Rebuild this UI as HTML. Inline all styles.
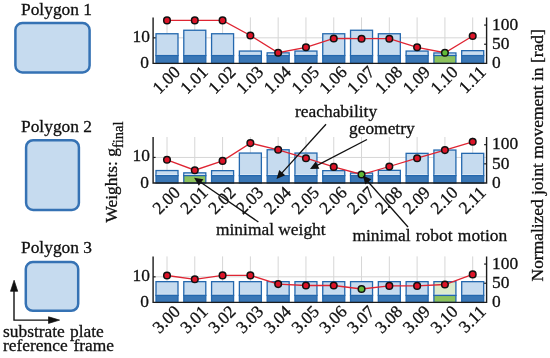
<!DOCTYPE html>
<html><head><meta charset="utf-8"><title>figure</title>
<style>
html,body{margin:0;padding:0;background:#fff;}
body{width:550px;height:358px;overflow:hidden;}
svg{display:block;}
text{font-family:"Liberation Serif", "Times New Roman", serif;font-size:17.4px;fill:#111;stroke:#111;stroke-width:0.3px;}
</style></head>
<body>
<svg width="550" height="358" viewBox="0 0 550 358">
<rect width="550" height="358" fill="#fff"/>
<line x1="167" y1="17.4" x2="167" y2="63.4" stroke="#d6d6d6" stroke-width="1"/>
<line x1="194.79" y1="17.4" x2="194.79" y2="63.4" stroke="#d6d6d6" stroke-width="1"/>
<line x1="222.58" y1="17.4" x2="222.58" y2="63.4" stroke="#d6d6d6" stroke-width="1"/>
<line x1="250.37" y1="17.4" x2="250.37" y2="63.4" stroke="#d6d6d6" stroke-width="1"/>
<line x1="278.16" y1="17.4" x2="278.16" y2="63.4" stroke="#d6d6d6" stroke-width="1"/>
<line x1="305.95" y1="17.4" x2="305.95" y2="63.4" stroke="#d6d6d6" stroke-width="1"/>
<line x1="333.75" y1="17.4" x2="333.75" y2="63.4" stroke="#d6d6d6" stroke-width="1"/>
<line x1="361.54" y1="17.4" x2="361.54" y2="63.4" stroke="#d6d6d6" stroke-width="1"/>
<line x1="389.33" y1="17.4" x2="389.33" y2="63.4" stroke="#d6d6d6" stroke-width="1"/>
<line x1="417.12" y1="17.4" x2="417.12" y2="63.4" stroke="#d6d6d6" stroke-width="1"/>
<line x1="444.91" y1="17.4" x2="444.91" y2="63.4" stroke="#d6d6d6" stroke-width="1"/>
<line x1="472.7" y1="17.4" x2="472.7" y2="63.4" stroke="#d6d6d6" stroke-width="1"/>
<line x1="153.1" y1="37.84" x2="486.6" y2="37.84" stroke="#d6d6d6" stroke-width="1"/>
<rect x="156" y="33.75" width="22" height="21.75" fill="#c6dbef" stroke="#2468ae" stroke-width="1.3"/>
<line x1="156.65" y1="54.4" x2="177.35" y2="54.4" stroke="#eef4fb" stroke-width="0.8"/>
<rect x="156" y="55.5" width="22" height="7.9" fill="#3a77b6" stroke="#2468ae" stroke-width="1.3"/>
<rect x="183.79" y="30.25" width="22" height="25.25" fill="#c6dbef" stroke="#2468ae" stroke-width="1.3"/>
<line x1="184.44" y1="54.4" x2="205.14" y2="54.4" stroke="#eef4fb" stroke-width="0.8"/>
<rect x="183.79" y="55.5" width="22" height="7.9" fill="#3a77b6" stroke="#2468ae" stroke-width="1.3"/>
<rect x="211.58" y="33.75" width="22" height="21.75" fill="#c6dbef" stroke="#2468ae" stroke-width="1.3"/>
<line x1="212.23" y1="54.4" x2="232.93" y2="54.4" stroke="#eef4fb" stroke-width="0.8"/>
<rect x="211.58" y="55.5" width="22" height="7.9" fill="#3a77b6" stroke="#2468ae" stroke-width="1.3"/>
<rect x="239.37" y="51.05" width="22" height="4.45" fill="#c6dbef" stroke="#2468ae" stroke-width="1.3"/>
<line x1="240.02" y1="54.4" x2="260.72" y2="54.4" stroke="#eef4fb" stroke-width="0.8"/>
<rect x="239.37" y="55.5" width="22" height="7.9" fill="#3a77b6" stroke="#2468ae" stroke-width="1.3"/>
<rect x="267.16" y="52.85" width="22" height="2.65" fill="#c6dbef" stroke="#2468ae" stroke-width="1.3"/>
<line x1="267.81" y1="54.4" x2="288.51" y2="54.4" stroke="#eef4fb" stroke-width="0.8"/>
<rect x="267.16" y="55.5" width="22" height="7.9" fill="#3a77b6" stroke="#2468ae" stroke-width="1.3"/>
<rect x="294.95" y="51.05" width="22" height="4.45" fill="#c6dbef" stroke="#2468ae" stroke-width="1.3"/>
<line x1="295.6" y1="54.4" x2="316.3" y2="54.4" stroke="#eef4fb" stroke-width="0.8"/>
<rect x="294.95" y="55.5" width="22" height="7.9" fill="#3a77b6" stroke="#2468ae" stroke-width="1.3"/>
<rect x="322.75" y="33.75" width="22" height="21.75" fill="#c6dbef" stroke="#2468ae" stroke-width="1.3"/>
<line x1="323.4" y1="54.4" x2="344.1" y2="54.4" stroke="#eef4fb" stroke-width="0.8"/>
<rect x="322.75" y="55.5" width="22" height="7.9" fill="#3a77b6" stroke="#2468ae" stroke-width="1.3"/>
<rect x="350.54" y="30.25" width="22" height="25.25" fill="#c6dbef" stroke="#2468ae" stroke-width="1.3"/>
<line x1="351.19" y1="54.4" x2="371.89" y2="54.4" stroke="#eef4fb" stroke-width="0.8"/>
<rect x="350.54" y="55.5" width="22" height="7.9" fill="#3a77b6" stroke="#2468ae" stroke-width="1.3"/>
<rect x="378.33" y="33.75" width="22" height="21.75" fill="#c6dbef" stroke="#2468ae" stroke-width="1.3"/>
<line x1="378.98" y1="54.4" x2="399.68" y2="54.4" stroke="#eef4fb" stroke-width="0.8"/>
<rect x="378.33" y="55.5" width="22" height="7.9" fill="#3a77b6" stroke="#2468ae" stroke-width="1.3"/>
<rect x="406.12" y="51.05" width="22" height="4.45" fill="#c6dbef" stroke="#2468ae" stroke-width="1.3"/>
<line x1="406.77" y1="54.4" x2="427.47" y2="54.4" stroke="#eef4fb" stroke-width="0.8"/>
<rect x="406.12" y="55.5" width="22" height="7.9" fill="#3a77b6" stroke="#2468ae" stroke-width="1.3"/>
<rect x="433.91" y="52.95" width="22" height="2.55" fill="#c6dbef" stroke="#2468ae" stroke-width="1.3"/>
<line x1="434.56" y1="54.4" x2="455.26" y2="54.4" stroke="#eef4fb" stroke-width="0.8"/>
<rect x="433.91" y="55.5" width="22" height="7.9" fill="#8cc25c" stroke="#2468ae" stroke-width="1.3"/>
<rect x="461.7" y="50.65" width="22" height="4.85" fill="#c6dbef" stroke="#2468ae" stroke-width="1.3"/>
<line x1="462.35" y1="54.4" x2="483.05" y2="54.4" stroke="#eef4fb" stroke-width="0.8"/>
<rect x="461.7" y="55.5" width="22" height="7.9" fill="#3a77b6" stroke="#2468ae" stroke-width="1.3"/>
<polyline points="167,20.4 194.79,20.4 222.58,20.4 250.37,35.5 278.16,52.7 305.95,47.3 333.75,38.5 361.54,38.7 389.33,38.7 417.12,47.3 444.91,52.7 472.7,36" fill="none" stroke="#df2533" stroke-width="1.3"/>
<circle cx="167" cy="20.4" r="3.3" fill="#dc1428" stroke="#111" stroke-width="1.5"/>
<circle cx="194.79" cy="20.4" r="3.3" fill="#dc1428" stroke="#111" stroke-width="1.5"/>
<circle cx="222.58" cy="20.4" r="3.3" fill="#dc1428" stroke="#111" stroke-width="1.5"/>
<circle cx="250.37" cy="35.5" r="3.3" fill="#dc1428" stroke="#111" stroke-width="1.5"/>
<circle cx="278.16" cy="52.7" r="3.3" fill="#dc1428" stroke="#111" stroke-width="1.5"/>
<circle cx="305.95" cy="47.3" r="3.3" fill="#dc1428" stroke="#111" stroke-width="1.5"/>
<circle cx="333.75" cy="38.5" r="3.3" fill="#dc1428" stroke="#111" stroke-width="1.5"/>
<circle cx="361.54" cy="38.7" r="3.3" fill="#dc1428" stroke="#111" stroke-width="1.5"/>
<circle cx="389.33" cy="38.7" r="3.3" fill="#dc1428" stroke="#111" stroke-width="1.5"/>
<circle cx="417.12" cy="47.3" r="3.3" fill="#dc1428" stroke="#111" stroke-width="1.5"/>
<circle cx="444.91" cy="52.7" r="3.3" fill="#62bb38" stroke="#111" stroke-width="1.5"/>
<circle cx="472.7" cy="36" r="3.3" fill="#dc1428" stroke="#111" stroke-width="1.5"/>
<path d="M153.1 17.4V63.4H486.6V17.4" fill="none" stroke="#1c1c1c" stroke-width="1.4"/>
<line x1="153.1" y1="37.84" x2="155.6" y2="37.84" stroke="#1c1c1c" stroke-width="1.2"/>
<line x1="484.1" y1="44.23" x2="486.6" y2="44.23" stroke="#1c1c1c" stroke-width="1.2"/>
<line x1="484.1" y1="25.07" x2="486.6" y2="25.07" stroke="#1c1c1c" stroke-width="1.2"/>
<text x="150" y="41.74" text-anchor="end">10</text>
<text x="149" y="68.2" text-anchor="end">0</text>
<text x="492" y="29.87">100</text>
<text x="492" y="49.03">50</text>
<text x="492" y="68.2">0</text>
<text transform="translate(181.1 73.2) rotate(-45)" text-anchor="end">1.00</text>
<text transform="translate(208.89 73.2) rotate(-45)" text-anchor="end">1.01</text>
<text transform="translate(236.68 73.2) rotate(-45)" text-anchor="end">1.02</text>
<text transform="translate(264.47 73.2) rotate(-45)" text-anchor="end">1.03</text>
<text transform="translate(292.26 73.2) rotate(-45)" text-anchor="end">1.04</text>
<text transform="translate(320.05 73.2) rotate(-45)" text-anchor="end">1.05</text>
<text transform="translate(347.85 73.2) rotate(-45)" text-anchor="end">1.06</text>
<text transform="translate(375.64 73.2) rotate(-45)" text-anchor="end">1.07</text>
<text transform="translate(403.43 73.2) rotate(-45)" text-anchor="end">1.08</text>
<text transform="translate(431.22 73.2) rotate(-45)" text-anchor="end">1.09</text>
<text transform="translate(459.01 73.2) rotate(-45)" text-anchor="end">1.10</text>
<text transform="translate(486.8 73.2) rotate(-45)" text-anchor="end">1.11</text>
<line x1="167" y1="137" x2="167" y2="183" stroke="#d6d6d6" stroke-width="1"/>
<line x1="194.79" y1="137" x2="194.79" y2="183" stroke="#d6d6d6" stroke-width="1"/>
<line x1="222.58" y1="137" x2="222.58" y2="183" stroke="#d6d6d6" stroke-width="1"/>
<line x1="250.37" y1="137" x2="250.37" y2="183" stroke="#d6d6d6" stroke-width="1"/>
<line x1="278.16" y1="137" x2="278.16" y2="183" stroke="#d6d6d6" stroke-width="1"/>
<line x1="305.95" y1="137" x2="305.95" y2="183" stroke="#d6d6d6" stroke-width="1"/>
<line x1="333.75" y1="137" x2="333.75" y2="183" stroke="#d6d6d6" stroke-width="1"/>
<line x1="361.54" y1="137" x2="361.54" y2="183" stroke="#d6d6d6" stroke-width="1"/>
<line x1="389.33" y1="137" x2="389.33" y2="183" stroke="#d6d6d6" stroke-width="1"/>
<line x1="417.12" y1="137" x2="417.12" y2="183" stroke="#d6d6d6" stroke-width="1"/>
<line x1="444.91" y1="137" x2="444.91" y2="183" stroke="#d6d6d6" stroke-width="1"/>
<line x1="472.7" y1="137" x2="472.7" y2="183" stroke="#d6d6d6" stroke-width="1"/>
<line x1="153.1" y1="157.44" x2="486.6" y2="157.44" stroke="#d6d6d6" stroke-width="1"/>
<rect x="156" y="170.55" width="22" height="5.05" fill="#c6dbef" stroke="#2468ae" stroke-width="1.3"/>
<line x1="156.65" y1="174.5" x2="177.35" y2="174.5" stroke="#eef4fb" stroke-width="0.8"/>
<rect x="156" y="175.6" width="22" height="7.4" fill="#3a77b6" stroke="#2468ae" stroke-width="1.3"/>
<rect x="183.79" y="172.85" width="22" height="2.75" fill="#c6dbef" stroke="#2468ae" stroke-width="1.3"/>
<line x1="184.44" y1="174.5" x2="205.14" y2="174.5" stroke="#eef4fb" stroke-width="0.8"/>
<rect x="183.79" y="175.6" width="22" height="7.4" fill="#8cc25c" stroke="#2468ae" stroke-width="1.3"/>
<rect x="211.58" y="170.65" width="22" height="4.95" fill="#c6dbef" stroke="#2468ae" stroke-width="1.3"/>
<line x1="212.23" y1="174.5" x2="232.93" y2="174.5" stroke="#eef4fb" stroke-width="0.8"/>
<rect x="211.58" y="175.6" width="22" height="7.4" fill="#3a77b6" stroke="#2468ae" stroke-width="1.3"/>
<rect x="239.37" y="153.05" width="22" height="22.55" fill="#c6dbef" stroke="#2468ae" stroke-width="1.3"/>
<line x1="240.02" y1="174.5" x2="260.72" y2="174.5" stroke="#eef4fb" stroke-width="0.8"/>
<rect x="239.37" y="175.6" width="22" height="7.4" fill="#3a77b6" stroke="#2468ae" stroke-width="1.3"/>
<rect x="267.16" y="149.75" width="22" height="25.85" fill="#c6dbef" stroke="#2468ae" stroke-width="1.3"/>
<line x1="267.81" y1="174.5" x2="288.51" y2="174.5" stroke="#eef4fb" stroke-width="0.8"/>
<rect x="267.16" y="175.6" width="22" height="7.4" fill="#3a77b6" stroke="#2468ae" stroke-width="1.3"/>
<rect x="294.95" y="153.05" width="22" height="22.55" fill="#c6dbef" stroke="#2468ae" stroke-width="1.3"/>
<line x1="295.6" y1="174.5" x2="316.3" y2="174.5" stroke="#eef4fb" stroke-width="0.8"/>
<rect x="294.95" y="175.6" width="22" height="7.4" fill="#3a77b6" stroke="#2468ae" stroke-width="1.3"/>
<rect x="322.75" y="170.65" width="22" height="4.95" fill="#c6dbef" stroke="#2468ae" stroke-width="1.3"/>
<line x1="323.4" y1="174.5" x2="344.1" y2="174.5" stroke="#eef4fb" stroke-width="0.8"/>
<rect x="322.75" y="175.6" width="22" height="7.4" fill="#3a77b6" stroke="#2468ae" stroke-width="1.3"/>
<rect x="350.54" y="173.05" width="22" height="2.55" fill="#c6dbef" stroke="#2468ae" stroke-width="1.3"/>
<line x1="351.19" y1="174.5" x2="371.89" y2="174.5" stroke="#eef4fb" stroke-width="0.8"/>
<rect x="350.54" y="175.6" width="22" height="7.4" fill="#3a77b6" stroke="#2468ae" stroke-width="1.3"/>
<rect x="378.33" y="170.35" width="22" height="5.25" fill="#c6dbef" stroke="#2468ae" stroke-width="1.3"/>
<line x1="378.98" y1="174.5" x2="399.68" y2="174.5" stroke="#eef4fb" stroke-width="0.8"/>
<rect x="378.33" y="175.6" width="22" height="7.4" fill="#3a77b6" stroke="#2468ae" stroke-width="1.3"/>
<rect x="406.12" y="153.35" width="22" height="22.25" fill="#c6dbef" stroke="#2468ae" stroke-width="1.3"/>
<line x1="406.77" y1="174.5" x2="427.47" y2="174.5" stroke="#eef4fb" stroke-width="0.8"/>
<rect x="406.12" y="175.6" width="22" height="7.4" fill="#3a77b6" stroke="#2468ae" stroke-width="1.3"/>
<rect x="433.91" y="150.05" width="22" height="25.55" fill="#c6dbef" stroke="#2468ae" stroke-width="1.3"/>
<line x1="434.56" y1="174.5" x2="455.26" y2="174.5" stroke="#eef4fb" stroke-width="0.8"/>
<rect x="433.91" y="175.6" width="22" height="7.4" fill="#3a77b6" stroke="#2468ae" stroke-width="1.3"/>
<rect x="461.7" y="153.35" width="22" height="22.25" fill="#c6dbef" stroke="#2468ae" stroke-width="1.3"/>
<line x1="462.35" y1="174.5" x2="483.05" y2="174.5" stroke="#eef4fb" stroke-width="0.8"/>
<rect x="461.7" y="175.6" width="22" height="7.4" fill="#3a77b6" stroke="#2468ae" stroke-width="1.3"/>
<polyline points="167,159.8 194.79,170.2 222.58,160.9 250.37,143.1 278.16,149.8 305.95,158.2 333.75,166.9 361.54,174.5 389.33,166.5 417.12,158.2 444.91,150.1 472.7,141.8" fill="none" stroke="#df2533" stroke-width="1.3"/>
<circle cx="167" cy="159.8" r="3.3" fill="#dc1428" stroke="#111" stroke-width="1.5"/>
<circle cx="194.79" cy="170.2" r="3.3" fill="#dc1428" stroke="#111" stroke-width="1.5"/>
<circle cx="222.58" cy="160.9" r="3.3" fill="#dc1428" stroke="#111" stroke-width="1.5"/>
<circle cx="250.37" cy="143.1" r="3.3" fill="#dc1428" stroke="#111" stroke-width="1.5"/>
<circle cx="278.16" cy="149.8" r="3.3" fill="#dc1428" stroke="#111" stroke-width="1.5"/>
<circle cx="305.95" cy="158.2" r="3.3" fill="#dc1428" stroke="#111" stroke-width="1.5"/>
<circle cx="333.75" cy="166.9" r="3.3" fill="#dc1428" stroke="#111" stroke-width="1.5"/>
<circle cx="361.54" cy="174.5" r="3.3" fill="#62bb38" stroke="#111" stroke-width="1.5"/>
<circle cx="389.33" cy="166.5" r="3.3" fill="#dc1428" stroke="#111" stroke-width="1.5"/>
<circle cx="417.12" cy="158.2" r="3.3" fill="#dc1428" stroke="#111" stroke-width="1.5"/>
<circle cx="444.91" cy="150.1" r="3.3" fill="#dc1428" stroke="#111" stroke-width="1.5"/>
<circle cx="472.7" cy="141.8" r="3.3" fill="#dc1428" stroke="#111" stroke-width="1.5"/>
<path d="M153.1 137V183H486.6V137" fill="none" stroke="#1c1c1c" stroke-width="1.4"/>
<line x1="153.1" y1="157.44" x2="155.6" y2="157.44" stroke="#1c1c1c" stroke-width="1.2"/>
<line x1="484.1" y1="163.83" x2="486.6" y2="163.83" stroke="#1c1c1c" stroke-width="1.2"/>
<line x1="484.1" y1="144.67" x2="486.6" y2="144.67" stroke="#1c1c1c" stroke-width="1.2"/>
<text x="150" y="161.34" text-anchor="end">10</text>
<text x="149" y="187.8" text-anchor="end">0</text>
<text x="492" y="149.47">100</text>
<text x="492" y="168.63">50</text>
<text x="492" y="187.8">0</text>
<text transform="translate(181.1 193.6) rotate(-45)" text-anchor="end">2.00</text>
<text transform="translate(208.89 193.6) rotate(-45)" text-anchor="end">2.01</text>
<text transform="translate(236.68 193.6) rotate(-45)" text-anchor="end">2.02</text>
<text transform="translate(264.47 193.6) rotate(-45)" text-anchor="end">2.03</text>
<text transform="translate(292.26 193.6) rotate(-45)" text-anchor="end">2.04</text>
<text transform="translate(320.05 193.6) rotate(-45)" text-anchor="end">2.05</text>
<text transform="translate(347.85 193.6) rotate(-45)" text-anchor="end">2.06</text>
<text transform="translate(375.64 193.6) rotate(-45)" text-anchor="end">2.07</text>
<text transform="translate(403.43 193.6) rotate(-45)" text-anchor="end">2.08</text>
<text transform="translate(431.22 193.6) rotate(-45)" text-anchor="end">2.09</text>
<text transform="translate(459.01 193.6) rotate(-45)" text-anchor="end">2.10</text>
<text transform="translate(486.8 193.6) rotate(-45)" text-anchor="end">2.11</text>
<line x1="167" y1="256.4" x2="167" y2="302.4" stroke="#d6d6d6" stroke-width="1"/>
<line x1="194.79" y1="256.4" x2="194.79" y2="302.4" stroke="#d6d6d6" stroke-width="1"/>
<line x1="222.58" y1="256.4" x2="222.58" y2="302.4" stroke="#d6d6d6" stroke-width="1"/>
<line x1="250.37" y1="256.4" x2="250.37" y2="302.4" stroke="#d6d6d6" stroke-width="1"/>
<line x1="278.16" y1="256.4" x2="278.16" y2="302.4" stroke="#d6d6d6" stroke-width="1"/>
<line x1="305.95" y1="256.4" x2="305.95" y2="302.4" stroke="#d6d6d6" stroke-width="1"/>
<line x1="333.75" y1="256.4" x2="333.75" y2="302.4" stroke="#d6d6d6" stroke-width="1"/>
<line x1="361.54" y1="256.4" x2="361.54" y2="302.4" stroke="#d6d6d6" stroke-width="1"/>
<line x1="389.33" y1="256.4" x2="389.33" y2="302.4" stroke="#d6d6d6" stroke-width="1"/>
<line x1="417.12" y1="256.4" x2="417.12" y2="302.4" stroke="#d6d6d6" stroke-width="1"/>
<line x1="444.91" y1="256.4" x2="444.91" y2="302.4" stroke="#d6d6d6" stroke-width="1"/>
<line x1="472.7" y1="256.4" x2="472.7" y2="302.4" stroke="#d6d6d6" stroke-width="1"/>
<line x1="153.1" y1="276.84" x2="486.6" y2="276.84" stroke="#d6d6d6" stroke-width="1"/>
<rect x="156" y="281.65" width="22" height="13.75" fill="#c6dbef" stroke="#2468ae" stroke-width="1.3"/>
<line x1="156.65" y1="294.3" x2="177.35" y2="294.3" stroke="#eef4fb" stroke-width="0.8"/>
<rect x="156" y="295.4" width="22" height="7" fill="#3a77b6" stroke="#2468ae" stroke-width="1.3"/>
<rect x="183.79" y="281.65" width="22" height="13.75" fill="#c6dbef" stroke="#2468ae" stroke-width="1.3"/>
<line x1="184.44" y1="294.3" x2="205.14" y2="294.3" stroke="#eef4fb" stroke-width="0.8"/>
<rect x="183.79" y="295.4" width="22" height="7" fill="#3a77b6" stroke="#2468ae" stroke-width="1.3"/>
<rect x="211.58" y="281.65" width="22" height="13.75" fill="#c6dbef" stroke="#2468ae" stroke-width="1.3"/>
<line x1="212.23" y1="294.3" x2="232.93" y2="294.3" stroke="#eef4fb" stroke-width="0.8"/>
<rect x="211.58" y="295.4" width="22" height="7" fill="#3a77b6" stroke="#2468ae" stroke-width="1.3"/>
<rect x="239.37" y="281.65" width="22" height="13.75" fill="#c6dbef" stroke="#2468ae" stroke-width="1.3"/>
<line x1="240.02" y1="294.3" x2="260.72" y2="294.3" stroke="#eef4fb" stroke-width="0.8"/>
<rect x="239.37" y="295.4" width="22" height="7" fill="#3a77b6" stroke="#2468ae" stroke-width="1.3"/>
<rect x="267.16" y="281.65" width="22" height="13.75" fill="#c6dbef" stroke="#2468ae" stroke-width="1.3"/>
<line x1="267.81" y1="294.3" x2="288.51" y2="294.3" stroke="#eef4fb" stroke-width="0.8"/>
<rect x="267.16" y="295.4" width="22" height="7" fill="#3a77b6" stroke="#2468ae" stroke-width="1.3"/>
<rect x="294.95" y="281.65" width="22" height="13.75" fill="#c6dbef" stroke="#2468ae" stroke-width="1.3"/>
<line x1="295.6" y1="294.3" x2="316.3" y2="294.3" stroke="#eef4fb" stroke-width="0.8"/>
<rect x="294.95" y="295.4" width="22" height="7" fill="#3a77b6" stroke="#2468ae" stroke-width="1.3"/>
<rect x="322.75" y="281.65" width="22" height="13.75" fill="#c6dbef" stroke="#2468ae" stroke-width="1.3"/>
<line x1="323.4" y1="294.3" x2="344.1" y2="294.3" stroke="#eef4fb" stroke-width="0.8"/>
<rect x="322.75" y="295.4" width="22" height="7" fill="#3a77b6" stroke="#2468ae" stroke-width="1.3"/>
<rect x="350.54" y="281.65" width="22" height="13.75" fill="#c6dbef" stroke="#2468ae" stroke-width="1.3"/>
<line x1="351.19" y1="294.3" x2="371.89" y2="294.3" stroke="#eef4fb" stroke-width="0.8"/>
<rect x="350.54" y="295.4" width="22" height="7" fill="#3a77b6" stroke="#2468ae" stroke-width="1.3"/>
<rect x="378.33" y="281.65" width="22" height="13.75" fill="#c6dbef" stroke="#2468ae" stroke-width="1.3"/>
<line x1="378.98" y1="294.3" x2="399.68" y2="294.3" stroke="#eef4fb" stroke-width="0.8"/>
<rect x="378.33" y="295.4" width="22" height="7" fill="#3a77b6" stroke="#2468ae" stroke-width="1.3"/>
<rect x="406.12" y="281.65" width="22" height="13.75" fill="#c6dbef" stroke="#2468ae" stroke-width="1.3"/>
<line x1="406.77" y1="294.3" x2="427.47" y2="294.3" stroke="#eef4fb" stroke-width="0.8"/>
<rect x="406.12" y="295.4" width="22" height="7" fill="#3a77b6" stroke="#2468ae" stroke-width="1.3"/>
<rect x="433.91" y="281.65" width="22" height="13.75" fill="#dcebcc" stroke="#2468ae" stroke-width="1.3"/>
<line x1="434.56" y1="294.3" x2="455.26" y2="294.3" stroke="#eef4fb" stroke-width="0.8"/>
<rect x="433.91" y="295.4" width="22" height="7" fill="#8cc25c" stroke="#2468ae" stroke-width="1.3"/>
<rect x="461.7" y="281.65" width="22" height="13.75" fill="#c6dbef" stroke="#2468ae" stroke-width="1.3"/>
<line x1="462.35" y1="294.3" x2="483.05" y2="294.3" stroke="#eef4fb" stroke-width="0.8"/>
<rect x="461.7" y="295.4" width="22" height="7" fill="#3a77b6" stroke="#2468ae" stroke-width="1.3"/>
<polyline points="167,275.5 194.79,279.3 222.58,275.4 250.37,275.4 278.16,284.1 305.95,285.5 333.75,285.5 361.54,289 389.33,285.9 417.12,285.9 444.91,284.5 472.7,274.4" fill="none" stroke="#df2533" stroke-width="1.3"/>
<circle cx="167" cy="275.5" r="3.3" fill="#dc1428" stroke="#111" stroke-width="1.5"/>
<circle cx="194.79" cy="279.3" r="3.3" fill="#dc1428" stroke="#111" stroke-width="1.5"/>
<circle cx="222.58" cy="275.4" r="3.3" fill="#dc1428" stroke="#111" stroke-width="1.5"/>
<circle cx="250.37" cy="275.4" r="3.3" fill="#dc1428" stroke="#111" stroke-width="1.5"/>
<circle cx="278.16" cy="284.1" r="3.3" fill="#dc1428" stroke="#111" stroke-width="1.5"/>
<circle cx="305.95" cy="285.5" r="3.3" fill="#dc1428" stroke="#111" stroke-width="1.5"/>
<circle cx="333.75" cy="285.5" r="3.3" fill="#dc1428" stroke="#111" stroke-width="1.5"/>
<circle cx="361.54" cy="289" r="3.3" fill="#62bb38" stroke="#111" stroke-width="1.5"/>
<circle cx="389.33" cy="285.9" r="3.3" fill="#dc1428" stroke="#111" stroke-width="1.5"/>
<circle cx="417.12" cy="285.9" r="3.3" fill="#dc1428" stroke="#111" stroke-width="1.5"/>
<circle cx="444.91" cy="284.5" r="3.3" fill="#dc1428" stroke="#111" stroke-width="1.5"/>
<circle cx="472.7" cy="274.4" r="3.3" fill="#dc1428" stroke="#111" stroke-width="1.5"/>
<path d="M153.1 256.4V302.4H486.6V256.4" fill="none" stroke="#1c1c1c" stroke-width="1.4"/>
<line x1="153.1" y1="276.84" x2="155.6" y2="276.84" stroke="#1c1c1c" stroke-width="1.2"/>
<line x1="484.1" y1="283.23" x2="486.6" y2="283.23" stroke="#1c1c1c" stroke-width="1.2"/>
<line x1="484.1" y1="264.07" x2="486.6" y2="264.07" stroke="#1c1c1c" stroke-width="1.2"/>
<text x="150" y="280.74" text-anchor="end">10</text>
<text x="149" y="307.2" text-anchor="end">0</text>
<text x="492" y="268.87">100</text>
<text x="492" y="288.03">50</text>
<text x="492" y="307.2">0</text>
<text transform="translate(181.1 312.7) rotate(-45)" text-anchor="end">3.00</text>
<text transform="translate(208.89 312.7) rotate(-45)" text-anchor="end">3.01</text>
<text transform="translate(236.68 312.7) rotate(-45)" text-anchor="end">3.02</text>
<text transform="translate(264.47 312.7) rotate(-45)" text-anchor="end">3.03</text>
<text transform="translate(292.26 312.7) rotate(-45)" text-anchor="end">3.04</text>
<text transform="translate(320.05 312.7) rotate(-45)" text-anchor="end">3.05</text>
<text transform="translate(347.85 312.7) rotate(-45)" text-anchor="end">3.06</text>
<text transform="translate(375.64 312.7) rotate(-45)" text-anchor="end">3.07</text>
<text transform="translate(403.43 312.7) rotate(-45)" text-anchor="end">3.08</text>
<text transform="translate(431.22 312.7) rotate(-45)" text-anchor="end">3.09</text>
<text transform="translate(459.01 312.7) rotate(-45)" text-anchor="end">3.10</text>
<text transform="translate(486.8 312.7) rotate(-45)" text-anchor="end">3.11</text>
<text x="21" y="14.9">Polygon 1</text>
<rect x="15.4" y="23" width="74.2" height="49.5" rx="7" fill="#c6dbef" stroke="#3572b4" stroke-width="2.5"/>
<text x="21" y="131.5">Polygon 2</text>
<rect x="26.1" y="140.2" width="52.8" height="69.8" rx="7" fill="#c6dbef" stroke="#3572b4" stroke-width="2.5"/>
<text x="21" y="252.8">Polygon 3</text>
<rect x="25.8" y="262.1" width="52.4" height="48.7" rx="7" fill="#c6dbef" stroke="#3572b4" stroke-width="2.5"/>
<path d="M14 290V320.1H50" fill="none" stroke="#111" stroke-width="1.4"/>
<path d="M14.1 280.2L10.5 291.3H17.7Z" fill="#111" stroke="#111" stroke-width="0.7" stroke-linejoin="round"/>
<path d="M59.6 320.1L48.5 316.8V323.4Z" fill="#111" stroke="#111" stroke-width="0.7" stroke-linejoin="round"/>
<text x="3" y="336.8" style="word-spacing:0.8px">substrate plate</text>
<text x="3" y="350.5" style="word-spacing:1.5px">reference frame</text>
<line x1="326" y1="124.2" x2="281.53" y2="173.43" stroke="#111" stroke-width="1.3"/><path d="M276.5 179L279.23 170.01L285.17 175.37Z" fill="#111"/>
<line x1="367" y1="139.5" x2="316.66" y2="165.55" stroke="#111" stroke-width="1.3"/><path d="M310 169L315.71 161.54L319.39 168.65Z" fill="#111"/>
<line x1="258.4" y1="222" x2="200.28" y2="181.96" stroke="#111" stroke-width="1.3"/><path d="M194.1 177.7L203.37 179.23L198.83 185.82Z" fill="#111"/>
<line x1="408" y1="227" x2="367.66" y2="181.23" stroke="#111" stroke-width="1.3"/><path d="M362.7 175.6L371.32 179.33L365.32 184.62Z" fill="#111"/>
<text x="295" y="117.4">reachability</text>
<text x="349" y="133.8">geometry</text>
<text x="216" y="235.1">minimal weight</text>
<text x="352.5" y="241.3" style="word-spacing:1px">minimal robot motion</text>
<text transform="translate(117 222.5) rotate(-90)">Weights: g<tspan font-size="14.5" dy="6.3">final</tspan></text>
<text transform="translate(542.7 281.4) rotate(-90)">Normalized joint movement in [rad]</text>
</svg>
</body></html>
